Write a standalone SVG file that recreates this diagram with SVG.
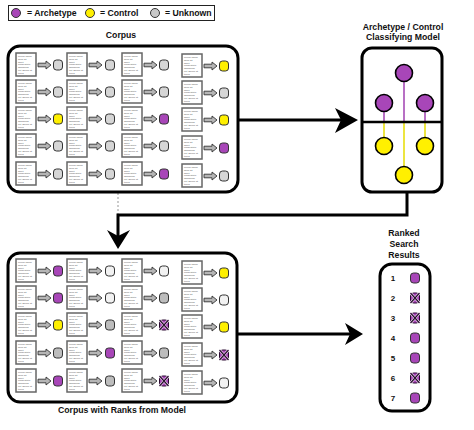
<svg xmlns="http://www.w3.org/2000/svg" width="474" height="430" viewBox="0 0 474 430">
<style>
.t{font-family:"Liberation Sans",Arial,sans-serif;font-weight:bold;font-size:8.7px;fill:#111}
.n{font-family:"Liberation Sans",Arial,sans-serif;font-weight:bold;font-size:8px;fill:#111}
.lt{font-family:"Liberation Sans",Arial,sans-serif;font-size:2.4px;fill:#555}
.box{fill:#fff;stroke:#000;stroke-width:3}
.conn{fill:none;stroke:#000;stroke-width:3}
.head{fill:#000}
.st{stroke:#333;stroke-width:1}
</style>
<defs>
<g id="doc">
<rect x="0" y="0" width="20" height="23" fill="#fff" stroke="#666" stroke-width="1.5"/>
<text class="lt" x="2" y="4">Lorem ipsum</text>
<text class="lt" x="2" y="6.8">dolor sit</text>
<text class="lt" x="2" y="9.6">amet,</text>
<text class="lt" x="2" y="12.4">consectetur</text>
<text class="lt" x="2" y="15.2">adipiscing</text>
<text class="lt" x="2" y="18">elit. Donec at</text>
<text class="lt" x="2" y="20.8">tellus</text>
</g>
<path id="barrow" d="M0,-1.8 H8 V-4 L13,0 L8,4 V1.8 H0 Z" fill="#b5b5b5" stroke="#333" stroke-width="0.9"/>
<rect id="arc" class="st" x="-4.5" y="-5" width="9" height="10" rx="3" fill="#a846b8"/>
<rect id="ctl" class="st" x="-4.5" y="-5" width="9" height="10" rx="3" fill="#fff000"/>
<rect id="unk" class="st" x="-4.5" y="-5" width="9" height="10" rx="3" fill="#d6d6d6"/>
<rect id="unkl" class="st" x="-4.5" y="-5" width="9" height="10" rx="3" fill="#f2f2f2"/>
<rect id="unkd" class="st" x="-4.5" y="-5" width="9" height="10" rx="3" fill="#bdbdbd"/>
<g id="xx">
<rect x="-4.5" y="-5" width="9" height="10" rx="3" fill="#a846b8" stroke="#2a0a30" stroke-width="1"/>
<path d="M-4.5,-5 L4.5,5 M-4.5,5 L4.5,-5" stroke="#fff" stroke-width="2.6"/>
<path d="M-4.5,-5 L4.5,5 M-4.5,5 L4.5,-5" stroke="#2a0a30" stroke-width="1.3"/>
</g>
</defs>

<g id="legend">
<rect x="8.5" y="5.5" width="206" height="15" fill="#fff" stroke="#222" stroke-width="1"/>
<circle cx="16" cy="13" r="4.5" fill="#a846b8" stroke="#333" stroke-width="1"/>
<text class="t" x="27" y="16">= Archetype</text>
<circle cx="90" cy="13" r="4.5" fill="#fff000" stroke="#333" stroke-width="1"/>
<text class="t" x="100" y="16">= Control</text>
<circle cx="155" cy="13" r="4.5" fill="#c8c8c8" stroke="#333" stroke-width="1"/>
<text class="t" x="165" y="16">= Unknown</text>
</g>

<g id="connectors">
<line x1="118" y1="193" x2="118" y2="214" stroke="#bbb" stroke-width="1.5" stroke-dasharray="2,2"/>
<line class="conn" x1="238" y1="120" x2="341" y2="120"/>
<path class="head" d="M335,108 L358,120 L335,133 L341,120 Z"/>
<path class="conn" d="M407,192 V215 H118 V236"/>
<path class="head" d="M107,230 L118,249 L130,230 L118,236 Z"/>
<line class="conn" x1="238" y1="334" x2="350" y2="334"/>
<path class="head" d="M345,323 L363,334 L345,345 L350,334 Z"/>
</g>

<g id="corpus">
<text class="t" x="121" y="38" text-anchor="middle">Corpus</text>
<rect class="box" x="8" y="46" width="230" height="146" rx="12"/>
<g transform="translate(16,53)"><use href="#doc"/><use href="#barrow" x="22" y="12"/><use href="#unk" x="42" y="12"/></g>
<g transform="translate(67,53)"><use href="#doc"/><use href="#barrow" x="22" y="12"/><use href="#unk" x="43" y="12"/></g>
<g transform="translate(122,53)"><use href="#doc"/><use href="#barrow" x="22" y="12"/><use href="#unk" x="42" y="12"/></g>
<g transform="translate(182,54)"><use href="#doc"/><use href="#barrow" x="22" y="12"/><use href="#ctl" x="42" y="12"/></g>

<g transform="translate(16,80)"><use href="#doc"/><use href="#barrow" x="22" y="12"/><use href="#unk" x="42" y="12"/></g>
<g transform="translate(67,80)"><use href="#doc"/><use href="#barrow" x="22" y="12"/><use href="#unk" x="43" y="12"/></g>
<g transform="translate(122,80)"><use href="#doc"/><use href="#barrow" x="22" y="12"/><use href="#unk" x="42" y="12"/></g>
<g transform="translate(182,81)"><use href="#doc"/><use href="#barrow" x="22" y="12"/><use href="#unk" x="42" y="12"/></g>

<g transform="translate(16,107)"><use href="#doc"/><use href="#barrow" x="22" y="12"/><use href="#ctl" x="42" y="12"/></g>
<g transform="translate(67,107)"><use href="#doc"/><use href="#barrow" x="22" y="12"/><use href="#unk" x="43" y="12"/></g>
<g transform="translate(122,107)"><use href="#doc"/><use href="#barrow" x="22" y="12"/><use href="#arc" x="42" y="12"/></g>
<g transform="translate(182,108)"><use href="#doc"/><use href="#barrow" x="22" y="12"/><use href="#ctl" x="42" y="12"/></g>

<g transform="translate(16,134)"><use href="#doc"/><use href="#barrow" x="22" y="12"/><use href="#unk" x="42" y="12"/></g>
<g transform="translate(67,134)"><use href="#doc"/><use href="#barrow" x="22" y="12"/><use href="#unk" x="43" y="12"/></g>
<g transform="translate(122,134)"><use href="#doc"/><use href="#barrow" x="22" y="12"/><use href="#unk" x="42" y="12"/></g>
<g transform="translate(182,136)"><use href="#doc"/><use href="#barrow" x="22" y="12"/><use href="#arc" x="42" y="12"/></g>

<g transform="translate(16,162)"><use href="#doc"/><use href="#barrow" x="22" y="12"/><use href="#unk" x="42" y="12"/></g>
<g transform="translate(67,162)"><use href="#doc"/><use href="#barrow" x="22" y="12"/><use href="#unk" x="43" y="12"/></g>
<g transform="translate(122,162)"><use href="#doc"/><use href="#barrow" x="22" y="12"/><use href="#arc" x="42" y="12"/></g>
<g transform="translate(182,164)"><use href="#doc"/><use href="#barrow" x="22" y="12"/><use href="#unk" x="42" y="12"/></g>
</g>

<g id="model">
<text class="t" x="403" y="30" text-anchor="middle">Archetype / Control</text>
<text class="t" x="403" y="40" text-anchor="middle">Classifying Model</text>
<rect class="box" x="362" y="48" width="80" height="144" rx="10"/>
<line x1="404" y1="80" x2="404" y2="122" stroke="#a040b0" stroke-width="1.5"/>
<line x1="404" y1="122" x2="404" y2="168" stroke="#e6dc00" stroke-width="1.5"/>
<line x1="384" y1="110" x2="384" y2="122" stroke="#a040b0" stroke-width="1.5"/>
<line x1="384" y1="122" x2="384" y2="140" stroke="#e6dc00" stroke-width="1.5"/>
<line x1="425" y1="110" x2="425" y2="122" stroke="#a040b0" stroke-width="1.5"/>
<line x1="425" y1="122" x2="425" y2="140" stroke="#e6dc00" stroke-width="1.5"/>
<line x1="362" y1="122" x2="442" y2="122" stroke="#000" stroke-width="2.5"/>
<circle cx="404" cy="73" r="8.5" fill="#a846b8" stroke="#000" stroke-width="1.6"/>
<circle cx="384" cy="103" r="8.5" fill="#a846b8" stroke="#000" stroke-width="1.6"/>
<circle cx="425" cy="103" r="8.5" fill="#a846b8" stroke="#000" stroke-width="1.6"/>
<circle cx="384" cy="146" r="8.5" fill="#fff000" stroke="#000" stroke-width="1.6"/>
<circle cx="425" cy="146" r="8.5" fill="#fff000" stroke="#000" stroke-width="1.6"/>
<circle cx="404" cy="175" r="8.5" fill="#fff000" stroke="#000" stroke-width="1.6"/>
</g>

<g id="ranked-corpus">
<rect class="box" x="8" y="253" width="229" height="149" rx="12"/>
<text class="t" x="122" y="413" text-anchor="middle">Corpus with Ranks from Model</text>
<g transform="translate(16,259)"><use href="#doc"/><use href="#barrow" x="22" y="12"/><use href="#arc" x="42" y="12"/></g>
<g transform="translate(67,259)"><use href="#doc"/><use href="#barrow" x="22" y="12"/><use href="#unkl" x="43" y="12"/></g>
<g transform="translate(122,259)"><use href="#doc"/><use href="#barrow" x="22" y="12"/><use href="#unkl" x="42" y="12"/></g>
<g transform="translate(182,261)"><use href="#doc"/><use href="#barrow" x="22" y="12"/><use href="#ctl" x="42" y="12"/></g>

<g transform="translate(16,286)"><use href="#doc"/><use href="#barrow" x="22" y="12"/><use href="#arc" x="42" y="12"/></g>
<g transform="translate(67,286)"><use href="#doc"/><use href="#barrow" x="22" y="12"/><use href="#unkl" x="43" y="12"/></g>
<g transform="translate(122,286)"><use href="#doc"/><use href="#barrow" x="22" y="12"/><use href="#unkd" x="42" y="12"/></g>
<g transform="translate(182,288)"><use href="#doc"/><use href="#barrow" x="22" y="12"/><use href="#unkl" x="42" y="12"/></g>

<g transform="translate(16,313)"><use href="#doc"/><use href="#barrow" x="22" y="12"/><use href="#ctl" x="42" y="12"/></g>
<g transform="translate(67,313)"><use href="#doc"/><use href="#barrow" x="22" y="12"/><use href="#unkd" x="43" y="12"/></g>
<g transform="translate(122,313)"><use href="#doc"/><use href="#barrow" x="22" y="12"/><use href="#xx" x="42" y="12"/></g>
<g transform="translate(182,315)"><use href="#doc"/><use href="#barrow" x="22" y="12"/><use href="#ctl" x="42" y="12"/></g>

<g transform="translate(16,341)"><use href="#doc"/><use href="#barrow" x="22" y="12"/><use href="#unkd" x="42" y="12"/></g>
<g transform="translate(67,341)"><use href="#doc"/><use href="#barrow" x="22" y="12"/><use href="#arc" x="43" y="12"/></g>
<g transform="translate(122,341)"><use href="#doc"/><use href="#barrow" x="22" y="12"/><use href="#unkd" x="42" y="12"/></g>
<g transform="translate(182,343)"><use href="#doc"/><use href="#barrow" x="22" y="12"/><use href="#xx" x="42" y="12"/></g>

<g transform="translate(16,369)"><use href="#doc"/><use href="#barrow" x="22" y="12"/><use href="#arc" x="42" y="12"/></g>
<g transform="translate(67,369)"><use href="#doc"/><use href="#barrow" x="22" y="12"/><use href="#unkd" x="43" y="12"/></g>
<g transform="translate(122,369)"><use href="#doc"/><use href="#barrow" x="22" y="12"/><use href="#xx" x="42" y="12"/></g>
<g transform="translate(182,371)"><use href="#doc"/><use href="#barrow" x="22" y="12"/><use href="#unkl" x="42" y="12"/></g>
</g>

<g id="results">
<text class="t" x="404" y="236" text-anchor="middle">Ranked</text>
<text class="t" x="404" y="247" text-anchor="middle">Search</text>
<text class="t" x="404" y="258" text-anchor="middle">Results</text>
<rect class="box" x="380" y="264" width="50" height="147" rx="12"/>
<text class="n" x="393" y="281" text-anchor="middle">1</text><use href="#arc" x="415" y="278"/>
<text class="n" x="393" y="301" text-anchor="middle">2</text><use href="#xx" x="415" y="298"/>
<text class="n" x="393" y="321" text-anchor="middle">3</text><use href="#xx" x="415" y="318"/>
<text class="n" x="393" y="341" text-anchor="middle">4</text><use href="#arc" x="415" y="338"/>
<text class="n" x="393" y="361" text-anchor="middle">5</text><use href="#arc" x="415" y="358"/>
<text class="n" x="393" y="381" text-anchor="middle">6</text><use href="#xx" x="415" y="378"/>
<text class="n" x="393" y="401" text-anchor="middle">7</text><use href="#arc" x="415" y="398"/>
</g>
</svg>
